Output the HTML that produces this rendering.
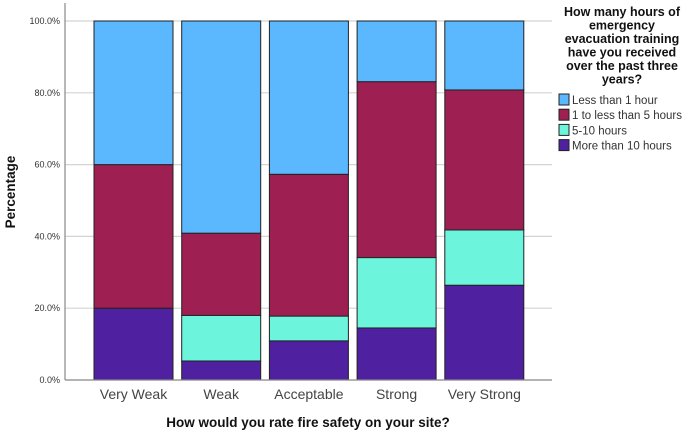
<!DOCTYPE html>
<html><head><meta charset="utf-8"><style>
body{margin:0;background:#fff;}
svg{display:block;font-family:"Liberation Sans",Arial,sans-serif;}
</style></head><body>
<svg id="chart" width="685" height="432">
<g id="grid"></g><g id="bars"></g><g id="axes"></g><g id="legend"></g>
</svg>
<script>
const categories = ["Very Weak","Weak","Acceptable","Strong","Very Strong"];
const seriesNames = ["Less than 1 hour","1 to less than 5 hours","5-10 hours","More than 10 hours"];
const moreThan10 = [20, 5.3, 10.9, 14.5, 26.4];
const fiveTo10 = [0, 12.7, 6.9, 19.6, 15.4];
const oneTo5 = [40, 22.9, 39.5, 49, 39];
const lessThan1 = [40, 59.1, 42.7, 16.9, 19.2];
const yTicks = [0,20,40,60,80,100];
const yTickLabels = ["0.0%","20.0%","40.0%","60.0%","80.0%","100.0%"];

const colors = {"Less than 1 hour":"#5cb8fe","1 to less than 5 hours":"#9e1f51","5-10 hours":"#6cf4dc","More than 10 hours":"#4f21a1"};
const NS="http://www.w3.org/2000/svg";
const x0=65,x1=552,yTop=21,yBot=380;
function y(v){return yBot-(yBot-yTop)*v/100;}
function bx(i){return 94+i*87.7;}
const bw=79;
function mk(tag,attrs,parent,text){const e=document.createElementNS(NS,tag);for(const k in attrs)e.setAttribute(k,attrs[k]);if(text!==undefined)e.textContent=text;parent.appendChild(e);return e;}
const grid=document.getElementById('grid'),bars=document.getElementById('bars'),axes=document.getElementById('axes'),leg=document.getElementById('legend');
yTicks.forEach((t,i)=>{
  if(t>0){const l=mk('line',{x1:x0,x2:x1,y1:y(t),y2:y(t),stroke:'#d4d4d4','stroke-width':1.2},grid);
  
  }
  const tx=mk('text',{x:60,y:y(t)+3,'font-size':9,'text-anchor':'end',fill:'#333'},axes,yTickLabels[i]);
  
  
});
const stackOrder=[[moreThan10,"More than 10 hours"],[fiveTo10,"5-10 hours"],[oneTo5,"1 to less than 5 hours"],[lessThan1,"Less than 1 hour"]];
categories.forEach((c,i)=>{
  let cum=0;
  stackOrder.forEach(([arr,name])=>{
    const v=arr[i];
    if(v>0){
      const r=mk('rect',{x:bx(i),y:y(cum+v),width:bw,height:y(cum)-y(cum+v),fill:colors[name],stroke:'#222','stroke-width':1},bars);
      
      
    }
    cum+=v;
  });
  const t=mk('text',{x:bx(i)+bw/2,y:399,'font-size':14,'text-anchor':'middle',fill:'#444'},axes,c);
  
  
});
const ya=mk('line',{x1:x0,x2:x0,y1:3,y2:yBot,stroke:'#888','stroke-width':1.2},axes);


const xa=mk('line',{x1:x0,x2:x1,y1:yBot,y2:yBot,stroke:'#888','stroke-width':1.2},axes);


const xt=mk('text',{x:308,y:427,'font-size':13.5,'font-weight':'bold','text-anchor':'middle',fill:'#111'},axes,"How would you rate fire safety on your site?");


const yt=mk('text',{x:0,y:0,'font-size':13.5,'font-weight':'bold','text-anchor':'middle',fill:'#111',transform:'translate(15,192) rotate(-90)'},axes,"Percentage");


["How many hours of","emergency","evacuation training","have you received","over the past three","years?"].forEach((s,i)=>{
  const t=mk('text',{x:622,y:16+i*13.5,'font-size':12.5,'font-weight':'bold','text-anchor':'middle',fill:'#111'},leg,s);
  
  
});
seriesNames.forEach((n,i)=>{
  const yy=94+i*15.2;
  const r=mk('rect',{x:559,y:yy,width:10,height:11,fill:colors[n],stroke:'#222','stroke-width':1},leg);
  
  
  const t=mk('text',{x:572,y:yy+10,'font-size':11.5,fill:'#333'},leg,n);
  
  
});
</script>
</body></html>
